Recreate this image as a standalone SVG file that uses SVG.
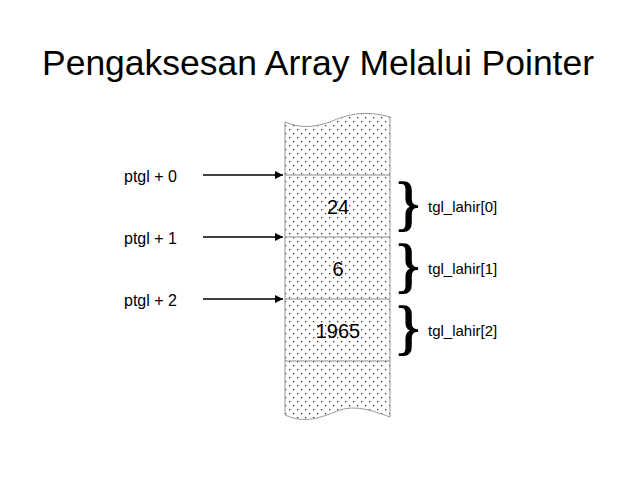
<svg xmlns="http://www.w3.org/2000/svg" width="638" height="478" viewBox="0 0 638 478">
<defs>
<pattern id="dots" width="8" height="8" patternUnits="userSpaceOnUse">
<rect x="1" y="1" width="1.3" height="1.3" fill="#333"/>
<rect x="5" y="5" width="1.3" height="1.3" fill="#333"/>
</pattern>
<marker id="ar" viewBox="0 0 10 10" refX="10" refY="5" markerWidth="8" markerHeight="8" orient="auto" markerUnits="userSpaceOnUse"><path d="M0,0 L10,5 L0,10 z" fill="#000"/></marker>
<style>
text{font-family:"Liberation Sans",Arial,sans-serif;fill:#000}
.lbl{font-size:15px}
.plbl{font-size:16px}
.val{font-size:20px}
.br{font-family:"Liberation Serif",serif;font-size:60px;stroke:#000;stroke-width:1.5}
.ln{stroke:#888;stroke-width:1}
.ar{stroke:#000;stroke-width:1.3;marker-end:url(#ar)}
</style>
</defs>
<rect width="638" height="478" fill="#fff"/>
<text x="42" y="75" font-size="35" textLength="552" lengthAdjust="spacingAndGlyphs">Pengaksesan Array Melalui Pointer</text>
<g id="memory">
<path d="M285,122 C300,128 312,128 330,122 C348,114 365,110 390,117 L390,417 C372,410 355,405 340,410 C320,418 305,424 285,415 Z" fill="url(#dots)" stroke="#999" stroke-width="1"/>
<line class="ln" x1="285" y1="175" x2="390" y2="175"/>
<line class="ln" x1="285" y1="237" x2="390" y2="237"/>
<line class="ln" x1="285" y1="299" x2="390" y2="299"/>
<line class="ln" x1="285" y1="361" x2="390" y2="361"/>
<text class="val" x="338" y="214" text-anchor="middle">24</text>
<text class="val" x="338" y="276" text-anchor="middle">6</text>
<text class="val" x="338" y="338" text-anchor="middle">1965</text>
</g>
<g id="braces">
<text class="br" x="394" y="223">}</text>
<text class="br" x="394" y="285">}</text>
<text class="br" x="394" y="347">}</text>
<text class="lbl" x="428" y="212">tgl_lahir[0]</text>
<text class="lbl" x="428" y="274">tgl_lahir[1]</text>
<text class="lbl" x="428" y="336">tgl_lahir[2]</text>
</g>
<g id="pointers">
<text class="plbl" x="124" y="182">ptgl + 0</text>
<text class="plbl" x="124" y="244">ptgl + 1</text>
<text class="plbl" x="124" y="306">ptgl + 2</text>
</g>
<g id="connectors">
<line class="ar" x1="203" y1="175" x2="283" y2="175"/>
<line class="ar" x1="203" y1="237" x2="283" y2="237"/>
<line class="ar" x1="203" y1="299" x2="283" y2="299"/>
</g>
</svg>
